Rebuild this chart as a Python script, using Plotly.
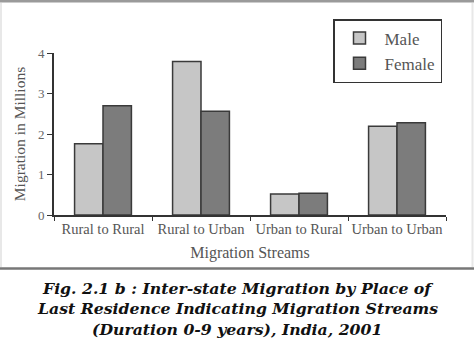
import plotly.graph_objects as go

categories = ["Rural to Rural", "Rural to Urban", "Urban to Rural", "Urban to Urban"]
male = [1.76, 3.79, 0.52, 2.19]
female = [2.70, 2.56, 0.54, 2.28]
y_ticks = [0, 1, 2, 3, 4]
caption = ["Fig. 2.1 b : Inter-state Migration by Place of",
           "Last Residence Indicating Migration Streams",
           "(Duration 0-9 years), India, 2001"]

W, H = 474, 338
L, R, T, B = 54, 28, 53, 123
pw, ph = W - L - R, H - T - B

def px(x):
    return (x - L) / pw

def py(y):
    return (H - B - y) / ph

serif = "Liberation Serif"
fig = go.Figure()
fig.add_trace(go.Bar(x=categories, y=male, name="Male",
                     marker=dict(color="#c6c6c6", line=dict(color="#3a3a3a", width=1.5))))
fig.add_trace(go.Bar(x=categories, y=female, name="Female",
                     marker=dict(color="#7c7c7c", line=dict(color="#3a3a3a", width=1.5))))

fig.update_layout(
    width=W, height=H, margin=dict(l=L, r=R, t=T, b=B),
    paper_bgcolor="white", plot_bgcolor="white",
    barmode="group", bargap=0.42, bargroupgap=0,
    font=dict(family=serif, color="#555", size=13),
    showlegend=True,
    legend=dict(x=px(442), xanchor="right", y=py(19), yanchor="top",
                bordercolor="#333", borderwidth=1.5, bgcolor="white",
                font=dict(family=serif, size=17, color="#555"),
                itemwidth=40, tracegroupgap=2),
    xaxis=dict(range=[-0.5, 3.5], showline=True, linecolor="#333", linewidth=2,
               ticks="outside", tickson="boundaries", ticklen=4, tickcolor="#333",
               tickangle=0,
               tickfont=dict(size=14.5, color="#555"),
               title=dict(text="Migration Streams", font=dict(size=16, color="#555"), standoff=10),
               showgrid=False, zeroline=False),
    yaxis=dict(range=[0, 4], tickvals=y_ticks, showline=True, linecolor="#333", linewidth=2,
               ticks="outside", ticklen=5, tickcolor="#333",
               tickfont=dict(size=13, color="#666"),
               title=dict(text="Migration in Millions", font=dict(size=15.5, color="#555"), standoff=8),
               showgrid=False, zeroline=False),
)

# panel frame decorations
fig.add_shape(type="rect", xref="paper", yref="paper", x0=px(0), x1=px(W), y0=py(0), y1=py(2.5),
              fillcolor="#9a9a9a", line=dict(width=0), layer="above")
fig.add_shape(type="line", xref="paper", yref="paper", x0=px(0), x1=px(W), y0=py(268.5), y1=py(268.5),
              line=dict(color="#777", width=2.5))
fig.add_shape(type="line", xref="paper", yref="paper", x0=px(1), x1=px(1), y0=py(3), y1=py(267),
              line=dict(color="#e8e8e8", width=2))
fig.add_shape(type="line", xref="paper", yref="paper", x0=px(472.5), x1=px(472.5), y0=py(3), y1=py(267),
              line=dict(color="#e8e8e8", width=2))

for i, line in enumerate(caption):
    fig.add_annotation(text="<b><i>" + line + "</i></b>", xref="paper", yref="paper",
                       x=px(W / 2), y=py(288 + i * 20.5), xanchor="center", yanchor="middle",
                       showarrow=False,
                       font=dict(family="DejaVu Serif", size=15.7, color="#111"))

fig.write_html("out.html")
